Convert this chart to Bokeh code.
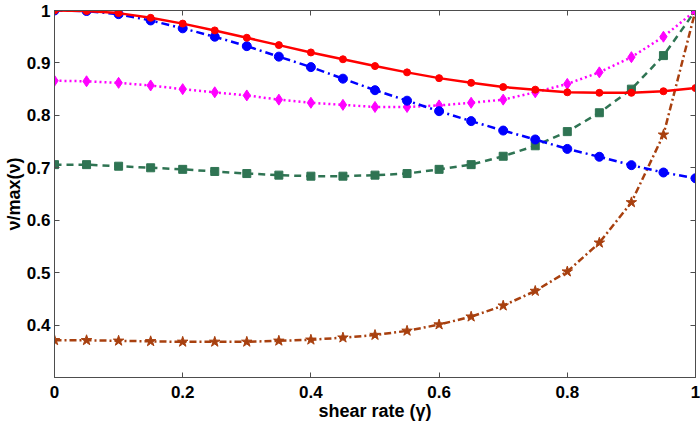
from bokeh.plotting import figure
from bokeh.models import Range1d, LinearAxis, FixedTicker, CustomLabelingPolicy
from bokeh.embed import file_html
from bokeh.resources import INLINE

# Shear rate samples
shear = [0.0, 0.05, 0.1, 0.15, 0.2, 0.25, 0.3, 0.35, 0.4, 0.45, 0.5,
         0.55, 0.6, 0.65, 0.7, 0.75, 0.8, 0.85, 0.9, 0.95, 1.0]

# Normalised viscosity curves
red_vals = [1.000, 0.999, 0.995, 0.986, 0.975, 0.962, 0.948, 0.934, 0.920, 0.907, 0.894,
            0.882, 0.871, 0.862, 0.854, 0.849, 0.844, 0.843, 0.843, 0.846, 0.852]
blue_vals = [1.000, 0.999, 0.993, 0.981, 0.966, 0.950, 0.932, 0.912, 0.892, 0.870, 0.848,
             0.828, 0.808, 0.789, 0.771, 0.754, 0.736, 0.721, 0.705, 0.691, 0.680]
magenta_vals = [0.866, 0.865, 0.862, 0.857, 0.850, 0.844, 0.838, 0.830, 0.824, 0.820, 0.816,
                0.816, 0.819, 0.824, 0.830, 0.844, 0.860, 0.882, 0.911, 0.950, 1.000]
green_vals = [0.706, 0.706, 0.703, 0.700, 0.697, 0.693, 0.689, 0.686, 0.684, 0.684, 0.686,
              0.689, 0.697, 0.706, 0.722, 0.742, 0.769, 0.805, 0.850, 0.914, 1.000]
brown_vals = [0.371, 0.371, 0.370, 0.369, 0.368, 0.368, 0.368, 0.370, 0.372, 0.376, 0.381,
              0.389, 0.401, 0.416, 0.437, 0.465, 0.502, 0.557, 0.634, 0.763, 1.000]

x_ticks = [0, 0.2, 0.4, 0.6, 0.8, 1.0]
x_tick_labels = ["0", "0.2", "0.4", "0.6", "0.8", "1"]
y_ticks = [0.4, 0.5, 0.6, 0.7, 0.8, 0.9, 1.0]
y_tick_labels = ["0.4", "0.5", "0.6", "0.7", "0.8", "0.9", "1"]

FONT = "Liberation Sans"
AXIS_GRAY = "#4d4d4d"

p = figure(width=700, height=423, output_backend="svg", toolbar_location=None,
           x_range=Range1d(0, 1), y_range=Range1d(0.3, 1.0))
p.min_border_left = 54
p.min_border_right = 5
p.min_border_top = 10
p.min_border_bottom = 45
p.grid.visible = False
p.outline_line_color = AXIS_GRAY
p.outline_line_width = 1
p.background_fill_color = "white"
p.border_fill_color = "white"

# the mirrored (top / right) axes carry tick marks only
hide_all = CustomLabelingPolicy(code="""
    for (const i of indices) { indices.unset(i) }
    return indices
""")

def style_axis(ax, ticks, labels, label_size="17px"):
    ax.ticker = FixedTicker(ticks=ticks)
    ax.major_label_overrides = {t: l for t, l in zip(ticks, labels)}
    ax.major_tick_in = 5
    ax.major_tick_out = 0
    ax.minor_tick_in = 0
    ax.minor_tick_out = 0
    ax.axis_line_color = AXIS_GRAY
    ax.major_tick_line_color = AXIS_GRAY
    ax.major_label_text_font = FONT
    ax.major_label_text_font_style = "bold"
    ax.major_label_text_font_size = label_size
    ax.major_label_text_color = "black"

style_axis(p.xaxis[0], x_ticks, x_tick_labels)
style_axis(p.yaxis[0], y_ticks, y_tick_labels)
p.xaxis[0].axis_label = "shear rate (γ)"
p.yaxis[0].axis_label = "ν/max(ν)"
for ax in (p.xaxis[0], p.yaxis[0]):
    ax.axis_label_text_font = FONT
    ax.axis_label_text_font_style = "bold"
    ax.axis_label_text_font_size = "18px"
    ax.axis_label_text_color = "black"
    ax.axis_label_standoff = 0
p.xaxis[0].major_label_standoff = 8
p.yaxis[0].major_label_standoff = 4

top_ax = LinearAxis(major_label_policy=hide_all)
right_ax = LinearAxis(major_label_policy=hide_all)
style_axis(top_ax, x_ticks, x_tick_labels, label_size="0px")
style_axis(right_ax, y_ticks, y_tick_labels, label_size="0px")
top_ax.major_label_standoff = 0
right_ax.major_label_standoff = 0
p.add_layout(top_ax, "above")
p.add_layout(right_ax, "right")

# Curves
p.line(shear, green_vals, line_color="#2f7453", line_width=2.5, line_dash="7 5")
p.scatter(shear, green_vals, marker="square", size=8, fill_color="#2f7453", line_color="#2f7453")

p.line(shear, brown_vals, line_color="#a8400f", line_width=2.5, line_dash="7 3 2 3")
p.scatter(shear, brown_vals, marker="star", size=11, fill_color="#a8400f", line_color="#a8400f")

p.line(shear, magenta_vals, line_color="#ff00ff", line_width=2.5, line_dash="2 3")
p.scatter(shear, magenta_vals, marker="diamond", size=11, fill_color="#ff00ff", line_color="#ff00ff")

p.line(shear, blue_vals, line_color="#0000ff", line_width=2.5, line_dash="8 4 2 4")
p.scatter(shear, blue_vals, marker="circle", size=9, fill_color="#0000ff", line_color="#0000ff")

p.line(shear, red_vals, line_color="#ff0000", line_width=2.5)
p.scatter(shear, red_vals, marker="circle", size=7, fill_color="#ff0000", line_color="#ff0000")

open("out.html", "w").write(file_html(p, INLINE))
